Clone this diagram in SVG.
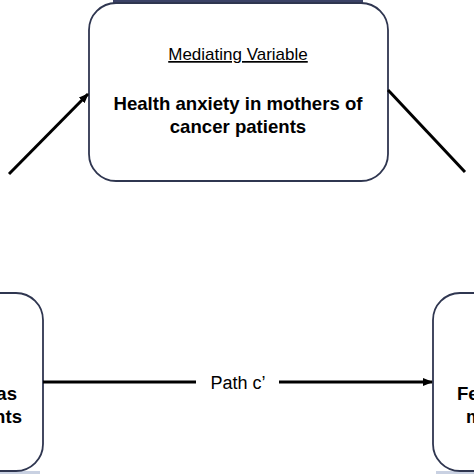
<svg xmlns="http://www.w3.org/2000/svg" width="474" height="474" viewBox="0 0 474 474">
<style>
.box{fill:#fff;stroke:#2f3650;stroke-width:1.8}
.arr{stroke:#000;stroke-width:3;fill:none}
.t{font-family:"Liberation Sans",Arial,sans-serif;fill:#000}
.b{font-weight:bold;font-size:18.6px}
.lab{font-size:18px}
</style>
<defs>
<marker id="ah" markerWidth="10" markerHeight="8" refX="9" refY="4" orient="auto" markerUnits="userSpaceOnUse">
<path d="M0,0 L10,4 L0,8 z" fill="#000"/>
</marker>
</defs>
<rect width="474" height="474" fill="#fff"/>
<rect x="113" y="0" width="250" height="3" fill="#3b4266"/>
<rect x="0" y="471" width="40" height="3" fill="#c9d1e2"/>
<rect x="436" y="471" width="38" height="3" fill="#c9d1e2"/>
<g id="mediator">
<rect class="box" x="89" y="3" width="299" height="178" rx="27"/>
<text class="t" x="238" y="60" font-size="17" text-anchor="middle" text-decoration="underline">Mediating Variable</text>
<text class="t b" x="238" y="110" text-anchor="middle">Health anxiety in mothers of</text>
<text class="t b" x="238" y="133" text-anchor="middle">cancer patients</text>
</g>
<g id="independent">
<rect class="box" x="-260" y="293" width="303" height="178" rx="27"/>
<text class="t b" x="17" y="400" text-anchor="end">as</text>
<text class="t b" x="22" y="423" text-anchor="end">nts</text>
</g>
<g id="dependent">
<rect class="box" x="433" y="293" width="300" height="178" rx="27"/>
<text class="t b" x="457" y="400">Fe</text>
<text class="t b" x="466" y="423">m</text>
</g>
<g id="connectors">
<line class="arr" x1="9" y1="174" x2="88" y2="94" marker-end="url(#ah)"/>
<line class="arr" x1="388" y1="90" x2="465" y2="172"/>
<line class="arr" x1="43" y1="382" x2="196" y2="382"/>
<line class="arr" x1="279" y1="382" x2="432" y2="382" marker-end="url(#ah)"/>
<text class="t lab" x="238" y="389" text-anchor="middle">Path c’</text>
</g>
</svg>
